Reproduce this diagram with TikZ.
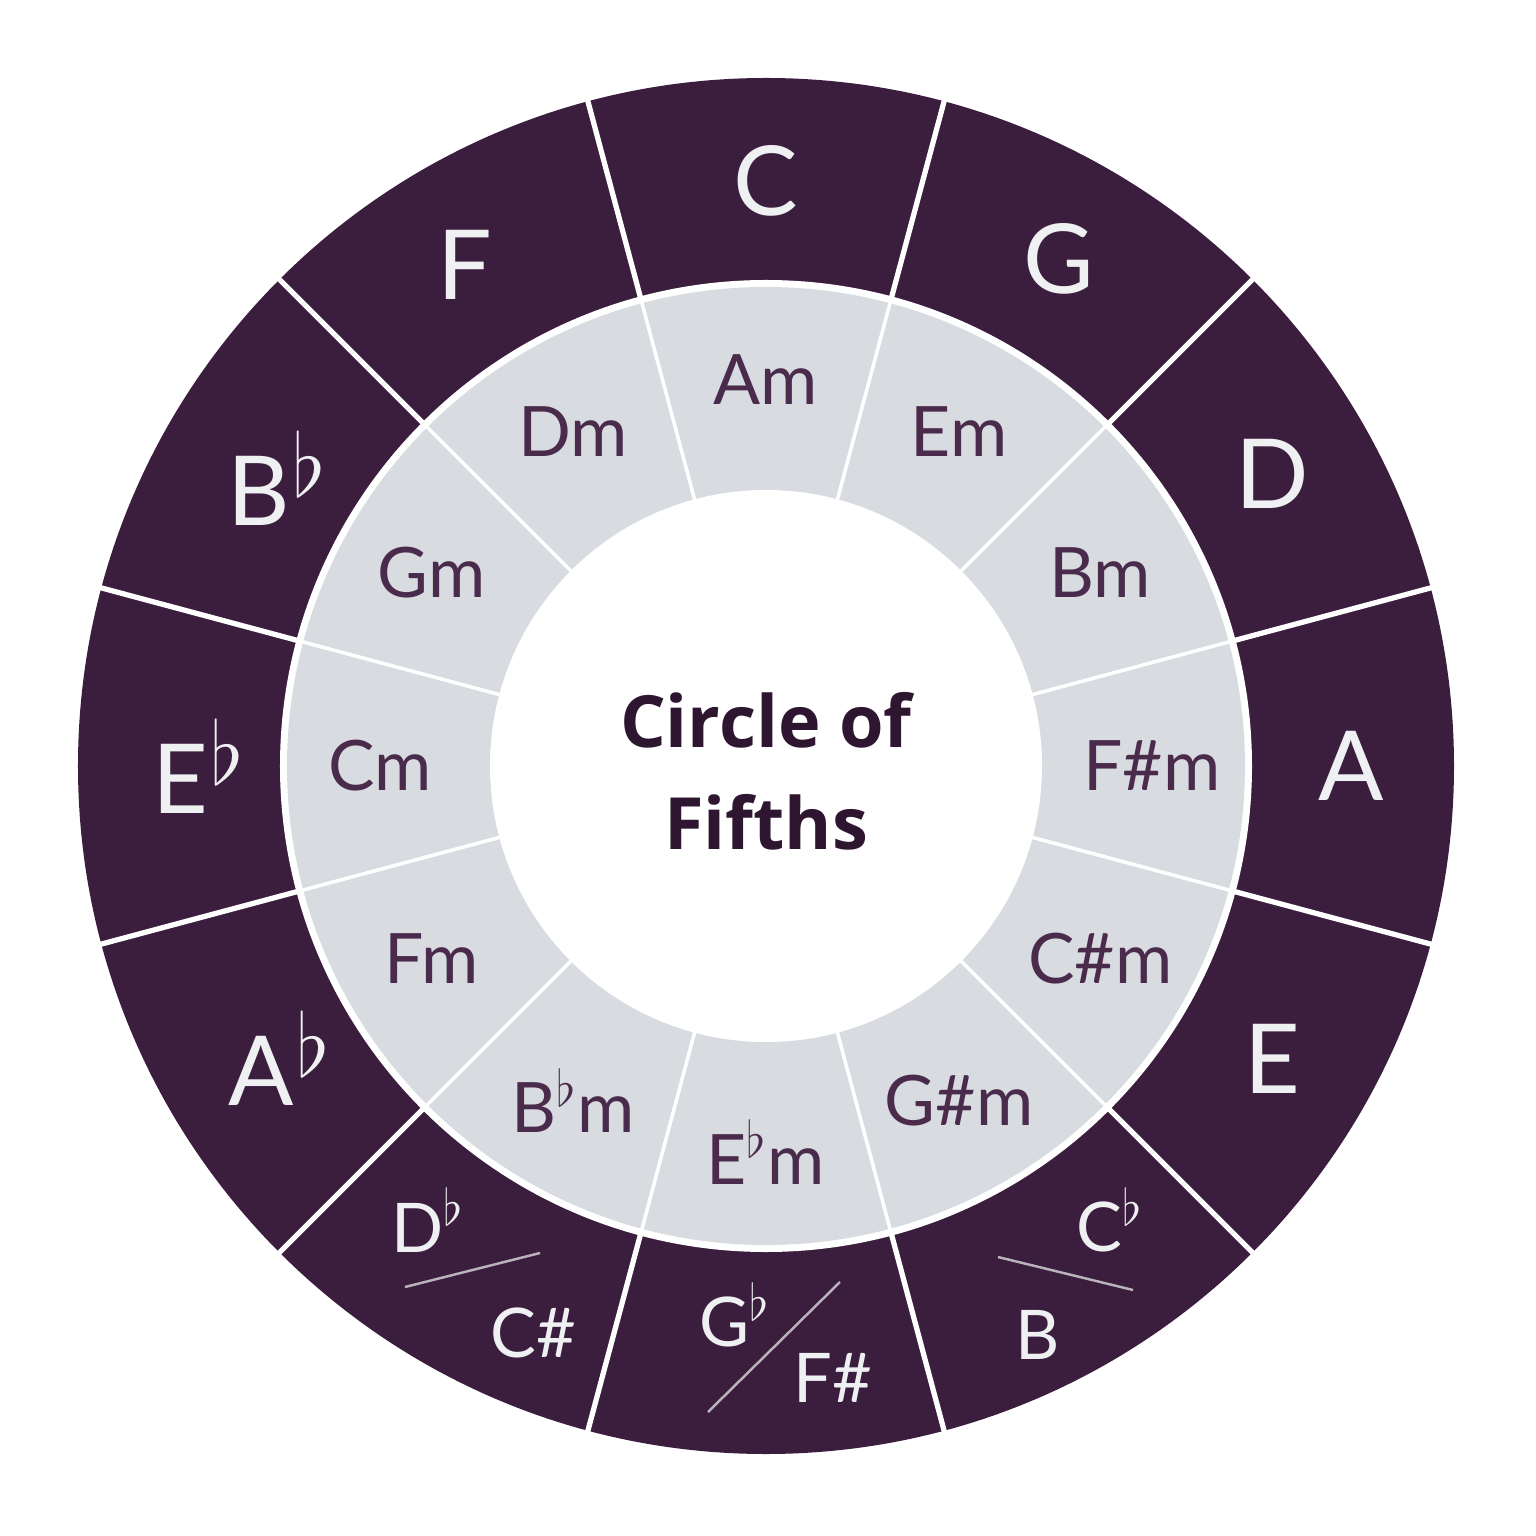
\documentclass[tikz,border=0pt]{standalone}
\usepackage{fontspec}
\setmainfont{Lato}
\newfontfamily\titlefont{Open Sans}
\definecolor{plum}{HTML}{3B1D3D}
\definecolor{mist}{HTML}{D8DCE0}
\definecolor{majtext}{HTML}{EEF0F2}
\definecolor{mintext}{HTML}{4A2B4B}
\definecolor{titletext}{HTML}{2E1631}
\definecolor{slashgray}{HTML}{B9B3BC}
\newcommand{\bigflat}{\kern0.02em\raisebox{0.3em}{$\flat$}}
\tikzset{
  major/.style={text=majtext,font=\fontsize{27.5}{30}\selectfont},
  split/.style={text=majtext,font=\fontsize{19.5}{22}\selectfont},
  minor/.style={text=mintext,font=\fontsize{19.8}{22}\selectfont},
  slash/.style={draw=slashgray,line width=0.7pt}
}
\begin{document}
\begin{tikzpicture}
        \useasboundingbox (-7.66,-7.70) rectangle (7.70,7.66);
        \fill[plum] (0,0) circle (6.88);
        \fill[white] (0,0) circle (4.86);
        \fill[mist] (0,0) circle (4.79);
        \fill[white] (0,0) circle (2.76);
        \foreach \a in {15,45,...,345} {
            \draw[white,line width=1pt] (\a:2.7) -- (\a:4.8);
            \draw[white,line width=1.5pt] (\a:4.8) -- (\a:6.9);
        }
        \foreach \nm/\a/\txt in {c/90/C,g/60/G,d/30/D,a/0/A,e/-30/E,f/121/F}
            \node[major] (\nm) at (\a:5.85) {\txt};
        \foreach \nm/\a/\txt in {af/-149/{A\bigflat},ef/180/{E\bigflat},bf/149.5/{B\bigflat}}
            \node[major] (\nm) at (\a:5.68) {\txt};
        \foreach \nm/\a/\txt in {am/90/Am,em/60/Em,bm/30/Bm,fsm/0/F\#m,csm/-30/C\#m,gsm/-60/G\#m,efm/-90/{E$^\flat$m},bfm/-120/{B$^\flat$m},fm/-150/Fm,cm/180/Cm,gm/150/Gm,dm/120/Dm}
            \node[minor] (\nm) at (\a:3.86) {\txt};
        \node[split] (df) at (-3.38,-4.54) {D$^\flat$};
        \node[split] (cs) at (-2.33,-5.67) {C\#};
        \coordinate (dfa) at (-3.61,-5.21);
        \coordinate (dfb) at (-2.26,-4.87);
        \draw[slash] (dfa) -- (dfb);
        \node[split] (gf) at (-0.31,-5.49) {G$^\flat$};
        \node[split] (fs) at (0.67,-6.12) {F\#};
        \coordinate (gfa) at (-0.58,-6.46);
        \coordinate (gfb) at (0.74,-5.16);
        \draw[slash] (gfa) -- (gfb);
        \node[split] (cf) at (3.44,-4.54) {C$^\flat$};
        \node[split] (b) at (2.72,-5.69) {B};
        \coordinate (cfa) at (2.32,-4.91);
        \coordinate (cfb) at (3.67,-5.24);
        \draw[slash] (cfa) -- (cfb);
        \node[text=titletext,font=\titlefont\bfseries\fontsize{20.5}{29}\selectfont,align=center] (title) at (0,-0.05) {Circle of\\Fifths};
    \end{tikzpicture}
\end{document}
